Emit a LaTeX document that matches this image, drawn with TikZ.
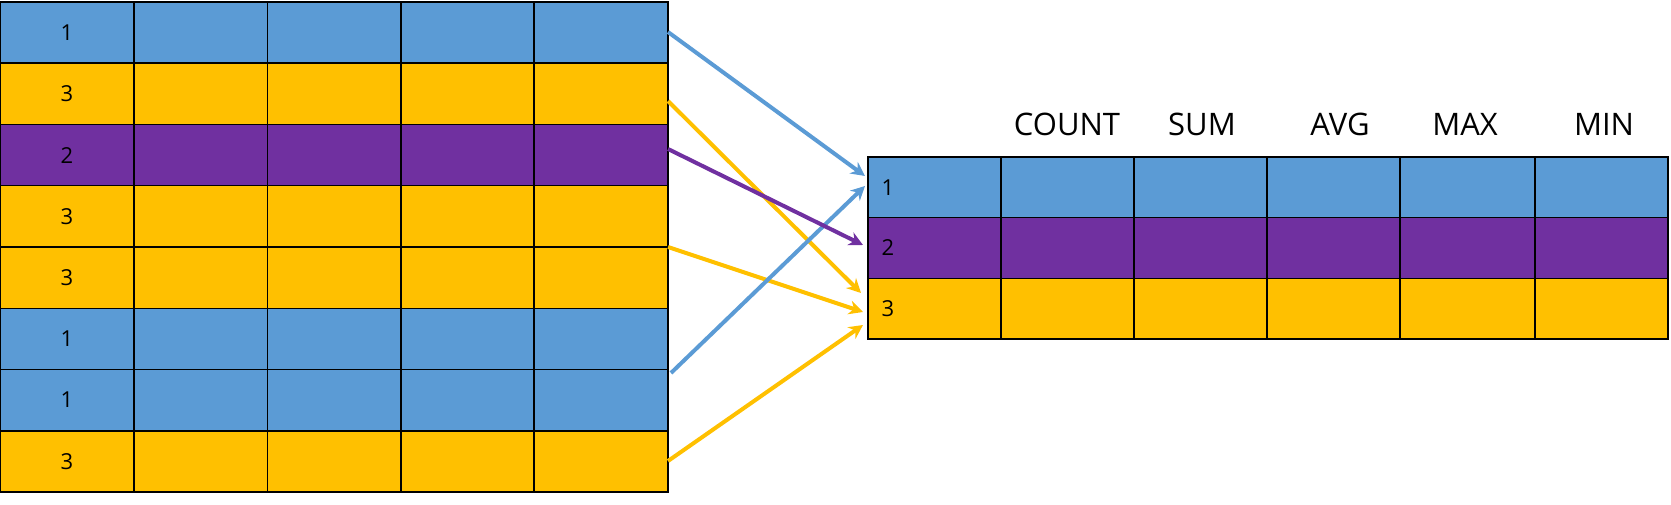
\documentclass[tikz,border=0pt]{standalone}
\usepackage{fontspec}
\setmainfont{Open Sans}
\usetikzlibrary{arrows.meta}
\definecolor{cb}{HTML}{5B9BD5}
\definecolor{cy}{HTML}{FFC000}
\definecolor{cp}{HTML}{7030A0}
\begin{document}
\begin{tikzpicture}[x=1pt,y=-1pt,
 cell/.style={draw=black,line width=1.5pt},
 arr/.style={line width=4pt,-{Stealth[length=14pt,width=14pt]}},
 lab/.style={font=\fontsize{22}{22}\selectfont},
 hd/.style={font=\fontsize{31}{31}\selectfont}]
\useasboundingbox (0,0) rectangle (1671,505);
% left table
\foreach \c [count=\i from 0] in {cb,cy,cp,cy,cy,cb,cb,cy}{
  \foreach \x/\w in {0/134,134/133.5,267.5/133.5,401/133,534/134}{
    \filldraw[cell,fill=\c] (\x,2+\i*61.25) rectangle ++(\w,61.25);
  }
  \coordinate (L\i) at (668,2+\i*61.25+30.6);
}
\foreach \t [count=\i from 0] in {1,3,2,3,3,1,1,3}
  \node[lab] (ll\i) at (67,2+\i*61.25+30.6) {\t};
% right table
\foreach \c [count=\i from 0] in {cb,cp,cy}{
  \foreach \x/\w in {868/133,1001/133,1134/133,1267/133,1400/135,1535/133}{
    \filldraw[cell,fill=\c] (\x,157+\i*60.7) rectangle ++(\w,60.7);
  }
}
\foreach \t [count=\i from 0] in {1,2,3}
  \node[lab,anchor=west] (rl\i) at (878,157+\i*60.7+30.3) {\t};
\node[hd] (h1) at (1067,124) {COUNT};
\node[hd] (h2) at (1202,124) {SUM};
\node[hd] (h3) at (1340,124) {AVG};
\node[hd] (h4) at (1465,124) {MAX};
\node[hd] (h5) at (1604,124) {MIN};
% arrows
\coordinate (a1s) at (668,32);  \coordinate (a1e) at (865,176);
\coordinate (a2s) at (668,101); \coordinate (a2e) at (861,293);
\coordinate (a3s) at (668,149); \coordinate (a3e) at (863,245);
\coordinate (a4s) at (668,247); \coordinate (a4e) at (863,312);
\coordinate (a5s) at (671,373); \coordinate (a5e) at (865,186);
\coordinate (a6s) at (668,461); \coordinate (a6e) at (863,325);
\draw[arr,cb] (a1s) -- (a1e);
\draw[arr,cy] (a2s) -- (a2e);
\draw[arr,cy] (a4s) -- (a4e);
\draw[arr,cb] (a5s) -- (a5e);
\draw[arr,cy] (a6s) -- (a6e);
\draw[arr,cp] (a3s) -- (a3e);
\end{tikzpicture}
\end{document}
